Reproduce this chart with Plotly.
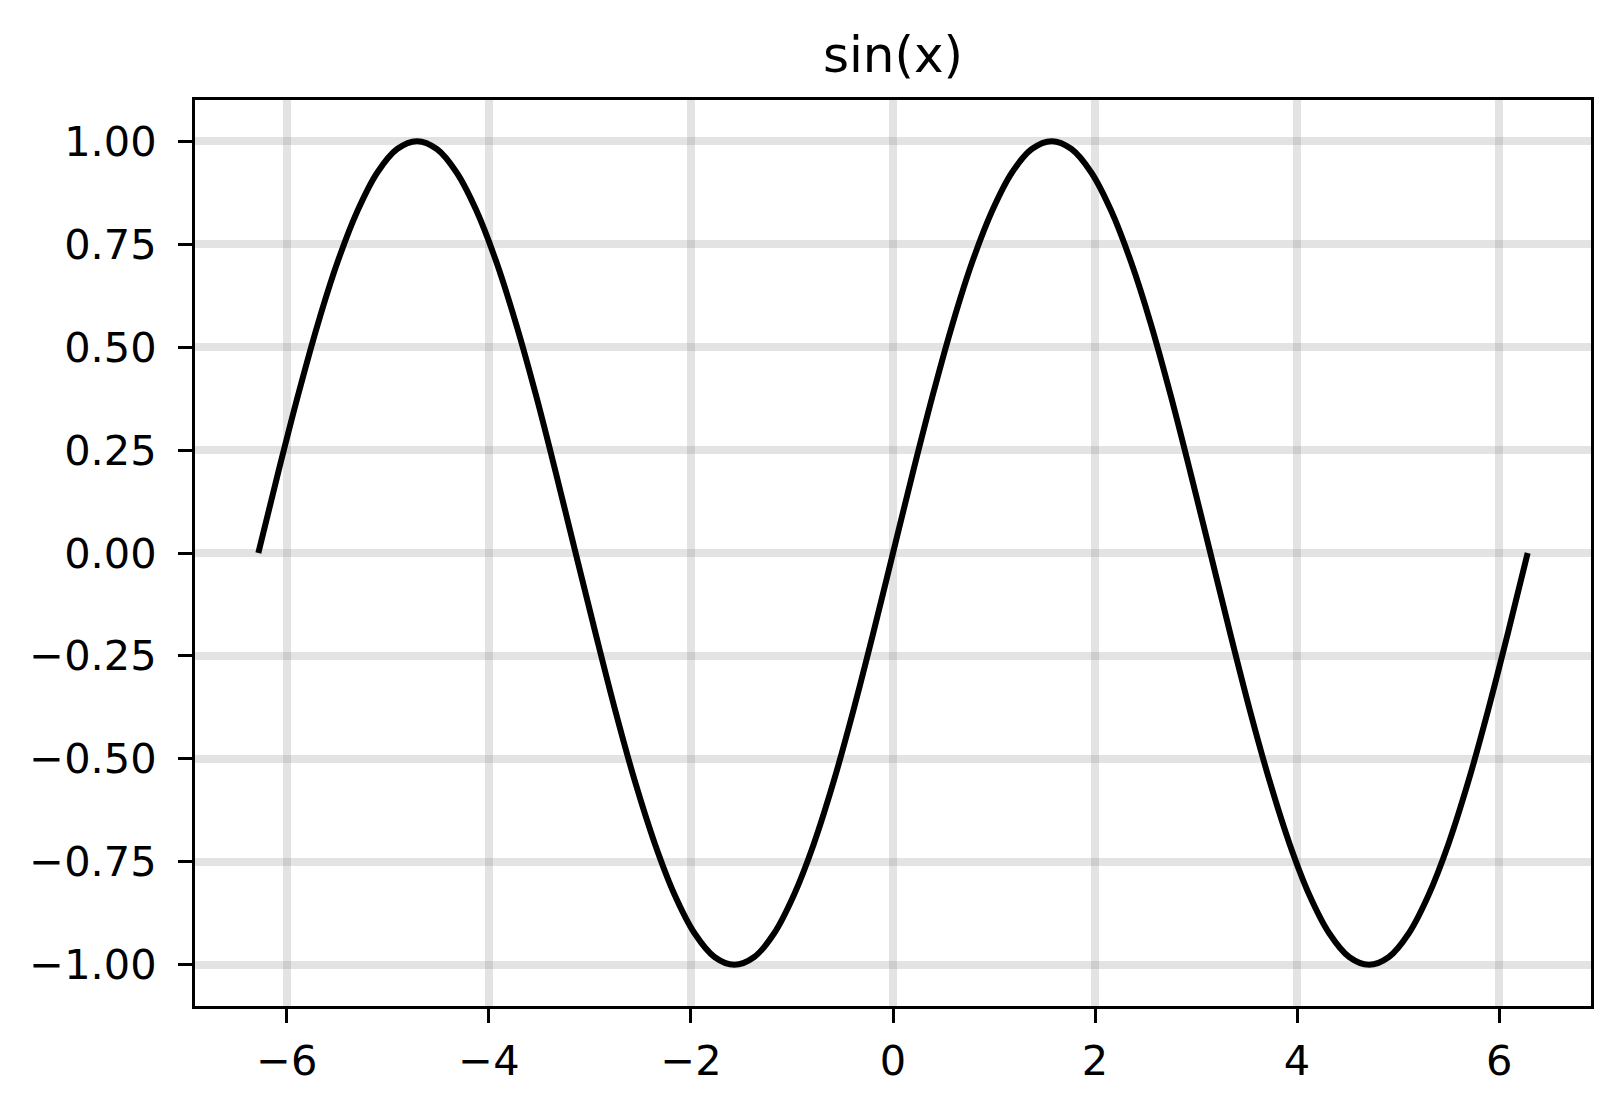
import plotly.graph_objects as go

# ── Data ──────────────────────────────────────────────────────────────────────
x_vals = [-6.283, -6.087, -5.890, -5.694, -5.498, -5.301, -5.105, -4.909,
          -4.712, -4.516, -4.320, -4.123, -3.927, -3.731, -3.534, -3.338,
          -3.142, -2.945, -2.749, -2.553, -2.356, -2.160, -1.963, -1.767,
          -1.571, -1.374, -1.178, -0.982, -0.785, -0.589, -0.393, -0.196,
          0.000, 0.196, 0.393, 0.589, 0.785, 0.982, 1.178, 1.374,
          1.571, 1.767, 1.963, 2.160, 2.356, 2.553, 2.749, 2.945,
          3.142, 3.338, 3.534, 3.731, 3.927, 4.123, 4.320, 4.516,
          4.712, 4.909, 5.105, 5.301, 5.498, 5.694, 5.890, 6.087, 6.283]
y_vals = [0.000, 0.195, 0.383, 0.556, 0.707, 0.831, 0.924, 0.981,
          1.000, 0.981, 0.924, 0.831, 0.707, 0.556, 0.383, 0.195,
          0.000, -0.195, -0.383, -0.556, -0.707, -0.831, -0.924, -0.981,
          -1.000, -0.981, -0.924, -0.831, -0.707, -0.556, -0.383, -0.195,
          0.000, 0.195, 0.383, 0.556, 0.707, 0.831, 0.924, 0.981,
          1.000, 0.981, 0.924, 0.831, 0.707, 0.556, 0.383, 0.195,
          0.000, -0.195, -0.383, -0.556, -0.707, -0.831, -0.924, -0.981,
          -1.000, -0.981, -0.924, -0.831, -0.707, -0.556, -0.383, -0.195, 0.000]

x_ticks = [-6, -4, -2, 0, 2, 4, 6]
x_tick_labels = ["−6", "−4", "−2", "0", "2", "4", "6"]
y_ticks = [1.0, 0.75, 0.5, 0.25, 0.0, -0.25, -0.5, -0.75, -1.0]
y_tick_labels = ["1.00", "0.75", "0.50", "0.25", "0.00",
                 "−0.25", "−0.50", "−0.75", "−1.00"]

# ── Style ─────────────────────────────────────────────────────────────────────
FONT = "DejaVu Sans, Liberation Sans, sans-serif"
C_GRID = "rgba(128,128,128,0.22)"

AXIS = dict(
    showline=True, linecolor="black", linewidth=3.3, mirror=True,
    ticks="outside", ticklen=14, tickwidth=3.3, tickcolor="black",
    showgrid=True, gridcolor=C_GRID, gridwidth=7.5,
    zeroline=False,
    tickfont=dict(family=FONT, size=41.5, color="black"),
)

fig = go.Figure(go.Scatter(
    x=x_vals,
    y=y_vals,
    mode="lines",
    line=dict(color="black", width=6, shape="spline", smoothing=1.0),
    showlegend=False,
))

fig.update_layout(
    width=1611, height=1098,
    paper_bgcolor="white",
    plot_bgcolor="white",
    margin=dict(l=187, r=28, t=92, b=100),
    title=dict(
        text="sin(x)",
        x=0.5, xref="paper", xanchor="center",
        y=1, yref="paper", yanchor="bottom",
        pad=dict(b=28),
        font=dict(family=FONT, size=50, color="black"),
    ),
    xaxis=dict(range=[-6.91, 6.91], tickvals=x_ticks, ticktext=x_tick_labels,
               ticklabelstandoff=2, **AXIS),
    yaxis=dict(range=[-1.1, 1.1], tickvals=y_ticks, ticktext=y_tick_labels,
               ticklabelstandoff=13, **AXIS),
)

fig.write_html("out.html")
